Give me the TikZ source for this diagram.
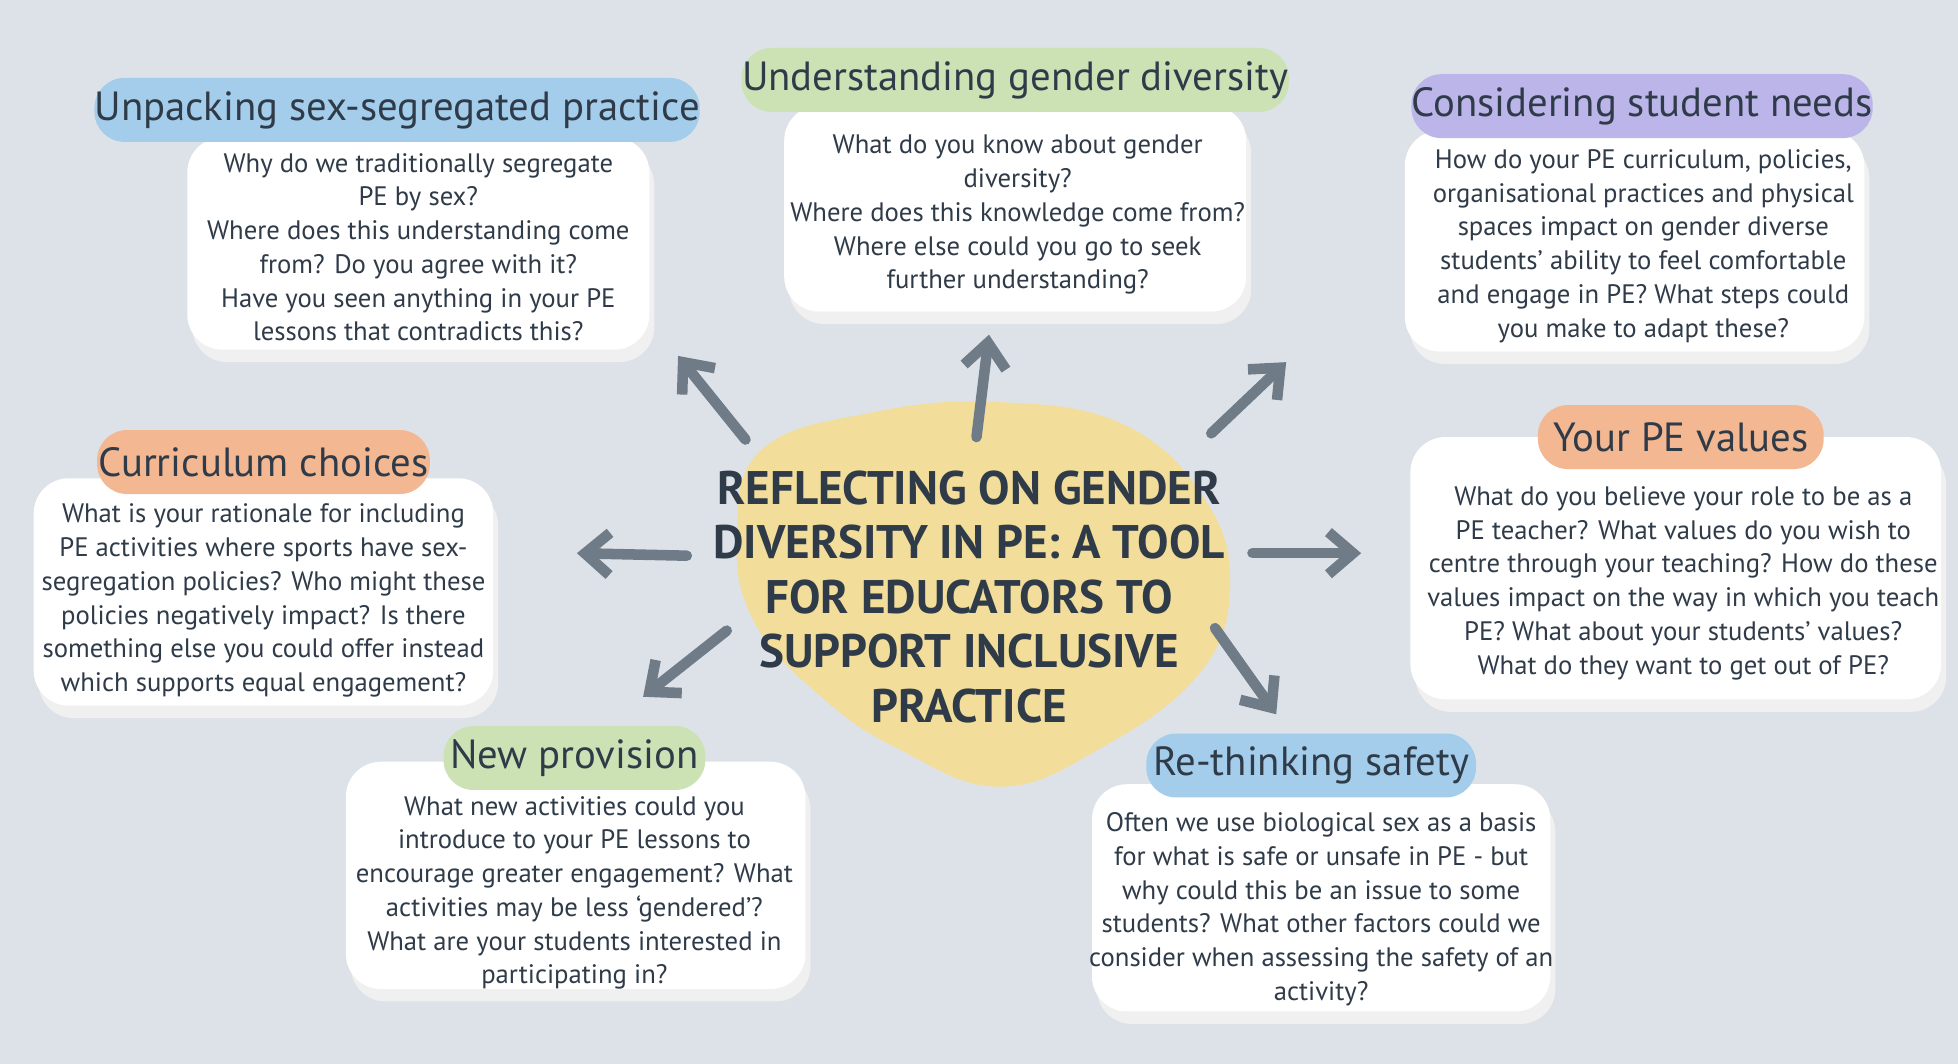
\documentclass[tikz,border=0pt]{standalone}
\usepackage{fontspec}
\setmainfont{PT Sans}
\usetikzlibrary{arrows.meta}
\definecolor{bg}{HTML}{DDE2E8}
\definecolor{hblue}{HTML}{A3CDEB}
\definecolor{hgreen}{HTML}{CCE2B4}
\definecolor{hpurple}{HTML}{BBB5EA}
\definecolor{horange}{HTML}{F3B791}
\definecolor{blob}{HTML}{F2DE9A}
\definecolor{ink}{HTML}{2F3B48}
\definecolor{arr}{HTML}{6F7B86}
\begin{document}
\begin{tikzpicture}[x=0.0125cm,y=-0.0125cm,
 card/.style={fill=white,rounded corners=0.35cm,align=center,inner sep=0pt,font=\fontsize{7.6}{9.6}\selectfont,text=ink},
 hdr/.style={rounded corners=0.3cm,inner sep=0pt,font=\fontsize{11.6}{14}\selectfont,text=ink},
 arrw/.style={draw=arr,line width=3pt,-{Straight Barb[length=7pt,width=12pt,line width=3pt]},line cap=round}]
\fill[bg] (0,0) rectangle (1568,852);
\useasboundingbox (0,0) rectangle (1568,852);
% blob
\fill[blob] plot[smooth cycle,tension=0.7] coordinates {(610,360) (700,330) (800,322) (900,340) (965,400) (985,470) (960,540) (880,600) (800,630) (720,600) (660,560) (605,500) (590,430)};
\newcommand{\card}[6]{%
 \fill[black!6,rounded corners=0.35cm] (#2-#4/2+4,#3-#5/2+10) rectangle (#2+#4/2+4,#3+#5/2+10);
 \fill[white,rounded corners=0.35cm] (#2-#4/2,#3-#5/2) rectangle (#2+#4/2,#3+#5/2);
 \coordinate (#1) at (#2,#3+#6);}
\newcommand{\cardtext}[4]{\node[card,fill=none] (#1) at (#2,#3) {#4};}
% 1
\card{c1}{335}{195}{370}{170}{0}
\cardtext{t1}{335}{198}{Why do we traditionally segregate\\PE by sex?\\Where does this understanding come\\from? Do you agree with it?\\Have you seen anything in your PE\\lessons that contradicts this?}
\node[hdr,fill=hblue,minimum width=6cm,minimum height=0.64cm] (h1) at (318,88) {Unpacking sex-segregated practice};
% 2
\card{c2}{813}{167}{370}{165}{0}
\cardtext{t2}{815}{172}{What do you know about gender\\diversity?\\Where does this knowledge come from?\\Where else could you go to seek\\further understanding?}
\node[hdr,fill=hgreen,minimum width=5.48cm,minimum height=0.64cm] (h2) at (813,64) {Understanding gender diversity};
% 3
\card{c3}{1309}{193}{368}{177}{0}
\cardtext{t3}{1316}{197}{How do your PE curriculum, policies,\\organisational practices and physical\\spaces impact on gender diverse\\students' ability to feel comfortable\\and engage in PE? What steps could\\you make to adapt these?}
\node[hdr,fill=hpurple,minimum width=4.6cm,minimum height=0.64cm] (h3) at (1315,85) {Considering student needs};
% 4
\card{c4}{211}{474}{368}{182}{0}
\cardtext{t4}{211}{481}{What is your rationale for including\\PE activities where sports have sex-\\segregation policies? Who might these\\policies negatively impact? Is there\\something else you could offer instead\\which supports equal engagement?}
\node[hdr,fill=horange,minimum width=3.33cm,minimum height=0.64cm] (h4) at (211,370) {Curriculum choices};
% 5
\card{c5}{1342}{455}{425}{210}{0}
\cardtext{t5}{1348}{467}{What do you believe your role to be as a\\PE teacher? What values do you wish to\\centre through your teaching? How do these\\values impact on the way in which you teach\\PE? What about your students' values?\\What do they want to get out of PE?}
\node[hdr,fill=horange,minimum width=2.86cm,minimum height=0.64cm] (h5) at (1346,350) {Your PE values};
% 6
\card{c6}{461}{701}{368}{182}{0}
\cardtext{t6}{460}{715}{What new activities could you\\introduce to your PE lessons to\\encourage greater engagement? What\\activities may be less `gendered'?\\What are your students interested in\\participating in?}
\node[hdr,fill=hgreen,minimum width=2.62cm,minimum height=0.64cm] (h6) at (460,607) {New provision};
% 7
\card{c7}{1058}{719}{367}{182}{0}
\cardtext{t7}{1058}{728}{Often we use biological sex as a basis\\for what is safe or unsafe in PE - but\\why could this be an issue to some\\students? What other factors could we\\consider when assessing the safety of an\\activity?}
\node[hdr,fill=hblue,minimum width=3.3cm,minimum height=0.64cm] (h7) at (1050,613) {Re-thinking safety};
% title
\node[align=center,text=ink,font=\bfseries\fontsize{13.4}{15.5}\selectfont] (title) at (776,478) {REFLECTING ON GENDER\\DIVERSITY IN PE: A TOOL\\FOR EDUCATORS TO\\SUPPORT INCLUSIVE\\PRACTICE};
% arrows
\foreach \a/\b/\c/\d [count=\i] in {597/352/543/285, 782/350/792/268, 970/347/1030/290, 550/445/462/443, 1003/443/1090/443, 582/505/515/558, 973/503/1022/572}{
 \coordinate (s\i) at (\a,\b); \coordinate (e\i) at (\c,\d);
 \draw[arrw] (s\i) -- (e\i);}
\end{tikzpicture}
\end{document}
